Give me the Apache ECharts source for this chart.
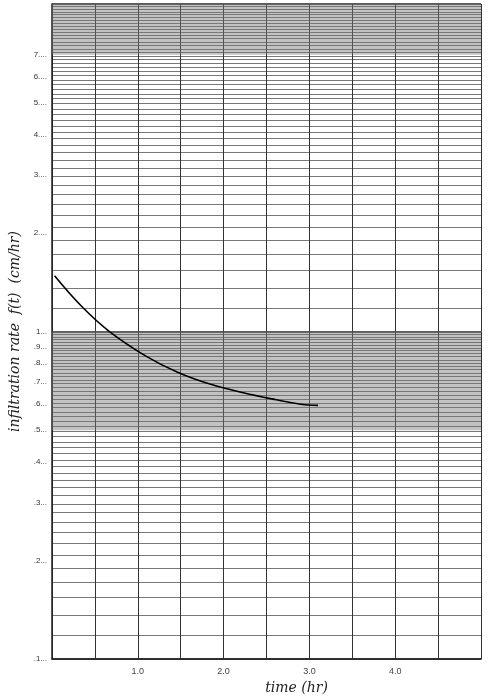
<!DOCTYPE html>
<html><head><meta charset="utf-8">
<script src="https://cdn.jsdelivr.net/npm/echarts@6/dist/echarts.min.js"></script>
<style>html,body{margin:0;background:#fff}#c{width:495px;height:700px}</style>
</head><body><div id="c"></div>
<script>
const times = [0.03, 0.35, 0.67, 1.1, 1.47, 1.85, 2.23, 2.6, 2.9, 3.1];
const rates = [1.48, 1.19, 1.0, 0.84, 0.75, 0.69, 0.65, 0.62, 0.60, 0.595];
const yTickValues = [7,6,5,4,3,2,1,0.9,0.8,0.7,0.6,0.5,0.4,0.3,0.2,0.1];
const yTickLabels = ['7.','6.','5.','4.','3.','2.','1','.9','.8','.7','.6','.5','.4','.3','.2','.1'];
const xTickLabels = {1:'1.0',2:'2.0',3:'3.0',4:'4.0'};
const chart = echarts.init(document.getElementById('c'));
chart.setOption({
  animation:false,
  grid:{left:44,right:14,top:4,bottom:40},
  xAxis:{type:'value',min:0,max:5,interval:0.5,
    axisLine:{lineStyle:{color:'#222',width:1.5}},axisTick:{show:false},
    axisLabel:{color:'#444',fontSize:9,formatter:v=>xTickLabels[v]||''},
    splitLine:{show:true,lineStyle:{color:'#333',width:1}},
    name:'time (hr)',nameLocation:'middle',nameGap:18,
    nameTextStyle:{color:'#222',fontSize:14,fontStyle:'italic',fontFamily:'DejaVu Serif',padding:[0,0,0,60]}},
  yAxis:{type:'log',logBase:10,min:0.1,max:10,
    axisLine:{lineStyle:{color:'#222',width:1.5}},axisTick:{show:false},
    axisLabel:{show:false},
    splitLine:{show:true,lineStyle:{color:'#222',width:1.5}},
    minorTick:{show:false,splitNumber:50},
    minorSplitLine:{show:true,lineStyle:{color:'#777',width:1}},
    name:'infiltration rate  f(t)  (cm/hr)',nameLocation:'middle',nameGap:30,
    nameTextStyle:{color:'#222',fontSize:14,fontStyle:'italic',fontFamily:'DejaVu Serif'}},
  series:[{type:'line',smooth:0.4,symbol:'none',
    data:times.map((t,i)=>[t,rates[i]]),
    lineStyle:{color:'#000',width:1.6},
    markArea:{silent:true,itemStyle:{color:'rgba(120,120,120,0.45)'},
      data:[[{yAxis:7},{yAxis:10}],[{yAxis:0.5},{yAxis:1}]]},
    markLine:{silent:true,symbol:'none',
      lineStyle:{color:'rgba(0,0,0,0)'},
      label:{position:'start',color:'#333',fontSize:8,formatter:p=>yTickLabels[p.dataIndex]+'...'},
      data:yTickValues.map(v=>({yAxis:v}))}
  }]
});
</script></body></html>
